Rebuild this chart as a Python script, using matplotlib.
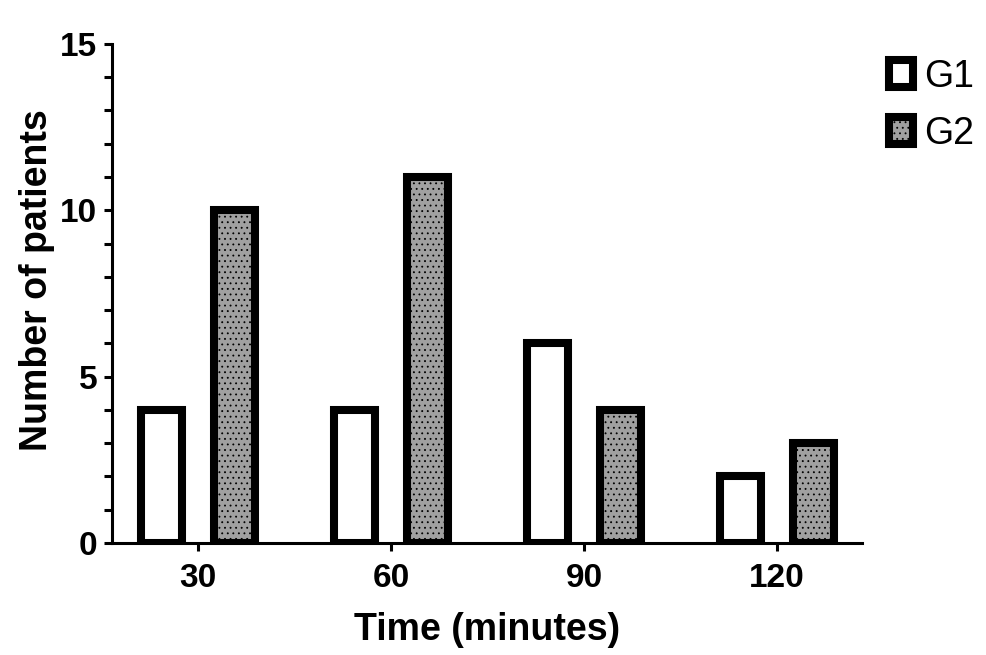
import numpy as np
import matplotlib.pyplot as plt
from matplotlib.ticker import MultipleLocator

# data
times = ['30', '60', '90', '120']
g1 = [4, 4, 6, 2]
g2 = [10, 11, 4, 3]

plt.rcParams['font.family'] = ['Liberation Sans', 'DejaVu Sans']
plt.rcParams['hatch.linewidth'] = 0.6

fig = plt.figure(figsize=(9.86, 6.55), dpi=100)
ax = fig.add_axes([0.1136, 0.171, 0.7606, 0.762])

x = np.arange(len(times))
w = 0.21
off = 0.19
ax.bar(x - off, g1, w, color='white', edgecolor='black', linewidth=5.8, label='G1')
ax.bar(x + off, g2, w, color='#a0a0a0', edgecolor='black', linewidth=5.8,
       hatch='...', label='G2')

ax.set_xlim(-0.445, 3.44)
ax.set_ylim(0, 15)
ax.set_xticks(x)
ax.set_xticklabels(times)
ax.yaxis.set_major_locator(MultipleLocator(5))
ax.yaxis.set_minor_locator(MultipleLocator(1))

for s in ['top', 'right']:
    ax.spines[s].set_visible(False)
for s in ['left', 'bottom']:
    ax.spines[s].set_linewidth(2.2)

ax.tick_params(axis='both', which='both', width=2.2, length=5.5, direction='out')
ax.tick_params(axis='x', labelsize=24, pad=9)
ax.tick_params(axis='y', labelsize=24, pad=5)
for lab in ax.get_xticklabels() + ax.get_yticklabels():
    lab.set_fontweight('bold')

ax.set_xlabel('Time (minutes)', fontsize=27, fontweight='bold', labelpad=13)
ax.set_ylabel('Number of patients', fontsize=27, fontweight='bold')
ax.yaxis.set_label_coords(-0.076, 0.527)

leg = ax.legend(loc='upper left', bbox_to_anchor=(1.016, 1.0), frameon=False,
                fontsize=27, handlelength=0.64, handleheight=0.74,
                handletextpad=0.3, labelspacing=0.55, borderaxespad=0)

plt.savefig('out.png', dpi=100)
